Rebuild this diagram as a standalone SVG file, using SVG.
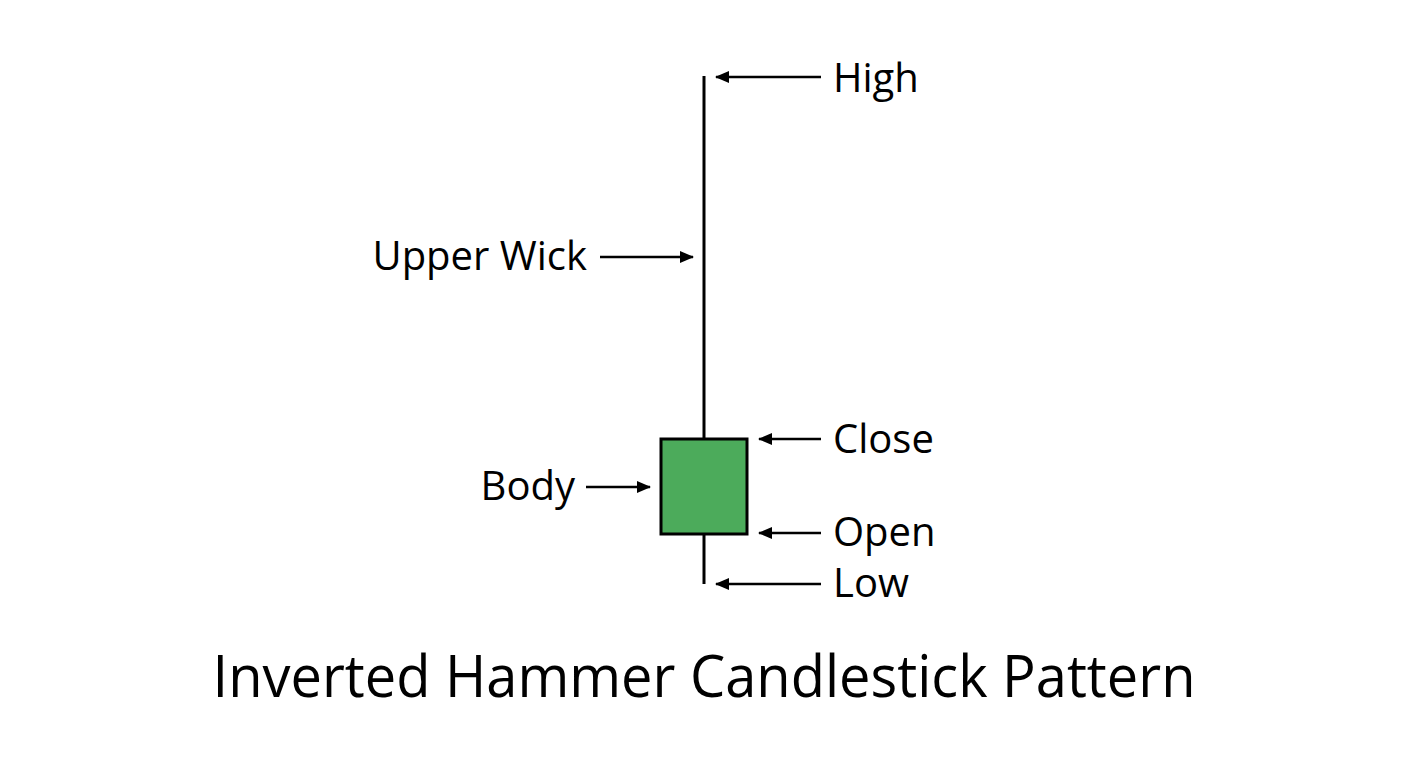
<svg xmlns="http://www.w3.org/2000/svg" width="1408" height="768" viewBox="0 0 1408 768">
<defs>
<marker id="ah" viewBox="0 0 14 12" refX="13" refY="6" markerWidth="14" markerHeight="12" markerUnits="userSpaceOnUse" orient="auto">
<path d="M0,0 L14,6 L0,12 Z" fill="#000"/>
</marker>
<style>
.lbl{font-family:"Open Sans","Noto Sans",sans-serif;font-size:40px;fill:#000}
.title{font-family:"Open Sans","Noto Sans",sans-serif;font-size:58px;fill:#000}
.wick{stroke:#000;stroke-width:3;fill:none}
.conn{stroke:#000;stroke-width:2.5;fill:none;marker-end:url(#ah)}
</style>
</defs>
<rect width="1408" height="768" fill="#fff"/>
<g id="candle">
<line class="wick" x1="704" y1="76" x2="704" y2="439"/>
<line class="wick" x1="704" y1="534" x2="704" y2="584"/>
<rect x="661" y="439" width="86" height="95" fill="#4CAB5B" stroke="#000" stroke-width="3"/>
</g>
<g id="connectors">
<line class="conn" x1="821" y1="77" x2="716" y2="77"/>
<line class="conn" x1="600" y1="257" x2="693" y2="257"/>
<line class="conn" x1="821" y1="439" x2="759" y2="439"/>
<line class="conn" x1="586" y1="487" x2="650" y2="487"/>
<line class="conn" x1="821" y1="533" x2="759" y2="533"/>
<line class="conn" x1="821" y1="584" x2="716" y2="584"/>
</g>
<g id="label-high"><text class="lbl" x="833" y="92">High</text></g>
<g id="label-upper-wick"><text class="lbl" x="587" y="270" text-anchor="end">Upper Wick</text></g>
<g id="label-close"><text class="lbl" x="833" y="453">Close</text></g>
<g id="label-body"><text class="lbl" x="575" y="500" text-anchor="end">Body</text></g>
<g id="label-open"><text class="lbl" x="833" y="546">Open</text></g>
<g id="label-low"><text class="lbl" x="833" y="597">Low</text></g>
<g id="title"><text class="title" x="704" y="697" text-anchor="middle" textLength="983" lengthAdjust="spacingAndGlyphs">Inverted Hammer Candlestick Pattern</text></g>
</svg>
